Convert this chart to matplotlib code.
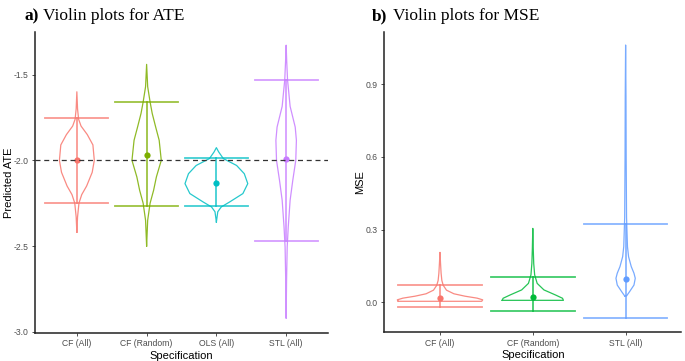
import numpy as np
import matplotlib
matplotlib.use("Agg")
import matplotlib.pyplot as plt

# ---------------- data ----------------
ate_categories = ["CF (All)", "CF (Random)", "OLS (All)", "STL (All)"]
ate_colors = ["#F8766D", "#7CAE00", "#00BFC4", "#C77CFF"]
ate_means = [-2.00, -1.967, -2.132, -1.99]
ate_lower = [-2.247, -2.267, -2.268, -2.473]
ate_upper = [-1.753, -1.66, -1.987, -1.53]

# violin profiles: y values and half-widths (x units)
ate_cf_all_y = [-2.42, -2.33, -2.25, -2.20, -2.15, -2.07, -2.00, -1.91, -1.85, -1.80, -1.76, -1.70, -1.60]
ate_cf_all_w = [0.0, 0.01, 0.03, 0.07, 0.14, 0.22, 0.25, 0.23, 0.15, 0.06, 0.025, 0.01, 0.0]
ate_cf_rand_y = [-2.50, -2.35, -2.25, -2.175, -2.097, -2.00, -1.883, -1.806, -1.726, -1.66, -1.57, -1.44]
ate_cf_rand_w = [0.0, 0.015, 0.05, 0.10, 0.14, 0.21, 0.18, 0.13, 0.08, 0.05, 0.015, 0.0]
ate_ols_y = [-2.36, -2.30, -2.272, -2.243, -2.194, -2.136, -2.078, -2.03, -1.99, -1.951, -1.926]
ate_ols_w = [0.0, 0.02, 0.07, 0.19, 0.38, 0.45, 0.40, 0.29, 0.10, 0.033, 0.0]
ate_stl_y = [-2.92, -2.70, -2.506, -2.39, -2.233, -2.117, -2.00, -1.883, -1.806, -1.685, -1.53, -1.42, -1.328]
ate_stl_w = [0.0, 0.006, 0.015, 0.03, 0.057, 0.095, 0.138, 0.147, 0.13, 0.057, 0.02, 0.008, 0.0]

mse_categories = ["CF (All)", "CF (Random)", "STL (All)"]
mse_colors = ["#F8766D", "#00BA38", "#619CFF"]
mse_means = [0.0165, 0.0206, 0.096]
mse_lower = [-0.021, -0.035, -0.066]
mse_upper = [0.073, 0.103, 0.325]

mse_cf_all_y = [0.004, 0.010, 0.017, 0.025, 0.035, 0.05, 0.07, 0.09, 0.12, 0.16, 0.206]
mse_cf_all_w = [0.45, 0.46, 0.40, 0.27, 0.15, 0.07, 0.035, 0.02, 0.012, 0.006, 0.0]
mse_cf_rand_y = [0.008, 0.0165, 0.030, 0.051, 0.078, 0.113, 0.16, 0.22, 0.305]
mse_cf_rand_w = [0.33, 0.32, 0.245, 0.12, 0.047, 0.02, 0.01, 0.005, 0.0]
mse_stl_y = [0.026, 0.044, 0.071, 0.099, 0.12, 0.147, 0.188, 0.23, 0.35, 0.6, 0.85, 1.062]
mse_stl_w = [0.01, 0.043, 0.09, 0.104, 0.09, 0.061, 0.032, 0.02, 0.01, 0.006, 0.004, 0.0]

ate_profiles = [(ate_cf_all_y, ate_cf_all_w), (ate_cf_rand_y, ate_cf_rand_w),
                (ate_ols_y, ate_ols_w), (ate_stl_y, ate_stl_w)]
mse_profiles = [(mse_cf_all_y, mse_cf_all_w), (mse_cf_rand_y, mse_cf_rand_w),
                (mse_stl_y, mse_stl_w)]

ate_ticks = [-3.0, -2.5, -2.0, -1.5]
mse_ticks = [0.0, 0.3, 0.6, 0.9]

# ---------------- drawing ----------------
plt.rcParams['font.family'] = ['Liberation Sans', 'DejaVu Sans']
fig = plt.figure(figsize=(6.85, 3.61), dpi=100)

ax1 = fig.add_axes([35/685, 1-332.7/361, 293/685, (332.7-32)/361])
ax2 = fig.add_axes([384.3/685, 1-332.3/361, 297/685, (332.3-31.7)/361])


def draw_panel(ax, cats, colors, profiles, means, lower, upper):
    for i, (c, (py, pw)) in enumerate(zip(colors, profiles)):
        x = i + 1
        py = np.asarray(py)
        pw = np.asarray(pw)
        xs = np.concatenate([x - pw, (x + pw)[::-1], [x - pw[0]]])
        ys = np.concatenate([py, py[::-1], [py[0]]])
        ax.plot(xs, ys, color=c, lw=0.9, alpha=0.85, zorder=3, solid_joinstyle='round')
        # error bar
        ax.plot([x, x], [lower[i], upper[i]], color=c, lw=1.3, alpha=0.75, zorder=2)
        ax.plot([x - 0.45, x + 0.45], [lower[i], lower[i]], color=c, lw=1.3, alpha=0.75, zorder=2)
        ax.plot([x - 0.45, x + 0.45], [upper[i], upper[i]], color=c, lw=1.3, alpha=0.75, zorder=2)
        ax.plot([x], [means[i]], 'o', color=c, ms=4.5, mec='none', zorder=4)
    ax.set_xticks(range(1, len(cats) + 1))
    ax.set_xticklabels(cats)
    ax.set_xlim(0.4, len(cats) + 0.6)
    for s in ['top', 'right']:
        ax.spines[s].set_visible(False)
    for s in ['left', 'bottom']:
        ax.spines[s].set_color('#222222')
        ax.spines[s].set_linewidth(1.1)
    ax.tick_params(axis='both', labelsize=6.2, colors='#333333', labelcolor='#4D4D4D',
                   length=2.5, width=0.6, pad=2)
    ax.set_xlabel("Specification", fontsize=8, labelpad=2)


draw_panel(ax1, ate_categories, ate_colors, ate_profiles, ate_means, ate_lower, ate_upper)
ax1.axhline(-2.0, color='#333333', lw=0.9, ls=(0, (4, 3)), zorder=5)
ax1.set_ylim(-3.006, -1.251)
ax1.set_yticks(ate_ticks)
ax1.set_yticklabels([f"{t:.1f}" for t in ate_ticks])
ax1.set_ylabel("Predicted ATE", fontsize=8)
ax1.yaxis.set_label_coords((14 - 35) / 293, 0.5)

draw_panel(ax2, mse_categories, mse_colors, mse_profiles, mse_means, mse_lower, mse_upper)
ax2.set_ylim(-0.124, 1.117)
ax2.set_yticks(mse_ticks)
ax2.set_yticklabels([f"{t:.1f}" for t in mse_ticks])
ax2.set_ylabel("MSE", fontsize=8)
ax2.yaxis.set_label_coords((365 - 384.3) / 297, 0.5)

title_kw = dict(fontsize=12.5, family='Liberation Serif', va='baseline')
fig.text(25/685, 1-20/361, "a)", weight='bold', **title_kw)
fig.text(43.5/685, 1-20/361, "Violin plots for ATE", **title_kw)
fig.text(372/685, 1-20/361, "b)", weight='bold', **title_kw)
fig.text(393/685, 1-20/361, "Violin plots for MSE", **title_kw)

fig.savefig("out.png", dpi=100)
